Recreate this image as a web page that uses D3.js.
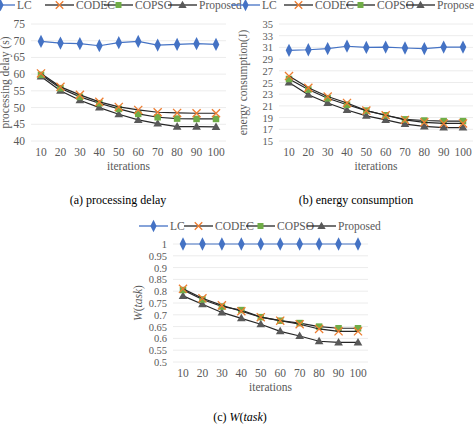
<!DOCTYPE html><html><head><meta charset="utf-8"><script src="https://d3js.org/d3.v7.min.js"></script>
<style>body{margin:0;background:#fff}</style></head><body><svg width="474" height="427" font-family="Liberation Serif, Times New Roman, DejaVu Serif, serif"></svg>
<script>
const iterations=[10,20,30,40,50,60,70,80,90,100];
const seriesNames=["LC","CODEC","COPSO","Proposed"];
const delayLC=[69.8,69.3,69.1,68.5,69.4,69.8,68.7,68.9,69.1,68.9];
const delayCODEC=[60.2,56.2,53.8,51.7,50.2,49.3,48.6,48.4,48.3,48.3];
const delayCOPSO=[59.8,55.8,53.2,51.3,49.6,48.1,47.1,46.7,46.6,46.6];
const delayProposed=[59.3,55,52.2,50,48,46.3,45.2,44.3,44.3,44.2];
const energyLC=[30.5,30.6,30.8,31.2,31.0,31.05,30.9,30.8,31.05,31.05];
const energyCODEC=[26.1,24.1,22.6,21.5,20.2,19.4,18.6,18.2,18.0,18.0];
const energyCOPSO=[25.6,23.8,22.3,21.2,20.2,19.4,18.7,18.5,18.4,18.4];
const energyProposed=[25.0,22.9,21.5,20.3,19.3,18.6,17.9,17.5,17.3,17.3];
const wLC=[1,1,1,1,1,1,1,1,1,1];
const wCODEC=[0.81,0.77,0.74,0.715,0.69,0.675,0.66,0.64,0.63,0.63];
const wCOPSO=[0.805,0.765,0.735,0.72,0.69,0.675,0.665,0.65,0.643,0.643];
const wProposed=[0.78,0.745,0.71,0.685,0.66,0.63,0.61,0.588,0.583,0.583];
const delayTicks=[40,45,50,55,60,65,70,75];
const energyTicks=[15,17,19,21,23,25,27,29,31,33,35];
const wTicks=[0.5,0.55,0.6,0.65,0.7,0.75,0.8,0.85,0.9,0.95,1];

const svg=d3.select("svg");
const colors={LC:"#4472C4",CODEC:"#ED7D31",COPSO:"#70AD47",Proposed:"#595959"};
const lineCol={LC:"#4472C4",CODEC:"#262626",COPSO:"#262626",Proposed:"#262626"};
const txt="#595959";
function marker(g,name,x,y,s){
 if(name==="LC")g.append("path").attr("d",d3.symbol(d3.symbolDiamond,s*5.5)()).attr("transform",`translate(${x},${y}) scale(1,1.15)`).attr("fill",colors.LC);
 else if(name==="CODEC")g.append("path").attr("d",`M${x-s/1.6},${y-s/1.6}L${x+s/1.6},${y+s/1.6}M${x-s/1.6},${y+s/1.6}L${x+s/1.6},${y-s/1.6}`).attr("stroke",colors.CODEC).attr("stroke-width",1.3);
 else if(name==="COPSO")g.append("rect").attr("x",x-s/2).attr("y",y-s/2).attr("width",s).attr("height",s).attr("fill",colors.COPSO);
 else g.append("path").attr("d",d3.symbol(d3.symbolTriangle,s*5)()).attr("transform",`translate(${x},${y+0.5})`).attr("fill",colors.Proposed);
}
function legend(y,xs){
 const g=svg.append("g");
 seriesNames.forEach((n,i)=>{const x=xs[i];
  g.append("line").attr("x1",x).attr("x2",x+29).attr("y1",y).attr("y2",y).attr("stroke",lineCol[n]).attr("stroke-width",1.3);
  marker(g,n,x+14.5,y,6);
  g.append("text").attr("x",x+31).attr("y",y+4).attr("font-size",11.5).attr("fill",txt).text(n);
 });
}
function chart(o){
 const x=d3.scalePoint().domain(iterations).range([o.x0,o.x1]);
 const y=d3.scaleLinear().domain([o.ticks[0],o.ticks[o.ticks.length-1]]).range([o.yb,o.yt]);
 const g=svg.append("g");
 o.ticks.forEach(t=>{g.append("line").attr("x1",o.x0-10).attr("x2",o.x1+10).attr("y1",y(t)).attr("y2",y(t)).attr("stroke","#ececec");
  g.append("text").attr("x",o.x0-16).attr("y",y(t)+4).attr("text-anchor","end").attr("font-size",o.fs).attr("fill",txt).text(o.fmt?o.fmt(t):t);});
 iterations.forEach(v=>g.append("text").attr("x",x(v)).attr("y",o.yb+15).attr("text-anchor","middle").attr("font-size",11.5).attr("fill",txt).text(v));
 g.append("text").attr("x",(o.x0+o.x1)/2).attr("y",o.yb+29).attr("text-anchor","middle").attr("font-size",11.5).attr("fill",txt).text("iterations");
 const yl=g.append("text").attr("transform",`translate(${o.ylx},${(o.yt+o.yb)/2}) rotate(-90)`).attr("text-anchor","middle").attr("font-size",11.5).attr("fill",txt);
 o.ylabel(yl);
 const ln=d3.line().x((d,i)=>x(iterations[i])).y(d=>y(d));
 ["Proposed","COPSO","CODEC","LC"].forEach(n=>{const d=o.data[n];
  g.append("path").attr("d",ln(d)).attr("fill","none").attr("stroke",lineCol[n]).attr("stroke-width",1.2);
  d.forEach((v,i)=>marker(g,n,x(iterations[i]),y(v),n==="LC"?7:6.5));});
 const c=g.append("text").attr("x",o.cx).attr("y",o.cy).attr("text-anchor","middle").attr("font-size",12).attr("fill","#000");
 o.caption(c);
}
legend(5,[-14,45,104,168]);
legend(5,[231,284,346,406]);
legend(226,[139,184,246,307]);
chart({x0:41,x1:216,yt:24,yb:141,ticks:delayTicks,fs:11.5,ylx:9,cx:118,cy:204,
 data:{LC:delayLC,CODEC:delayCODEC,COPSO:delayCOPSO,Proposed:delayProposed},
 ylabel:t=>t.text("processing delay (s)"),caption:t=>t.text("(a) processing delay")});
chart({x0:289,x1:463,yt:24,yb:141,ticks:energyTicks,fs:10.5,ylx:247,cx:356,cy:204,
 data:{LC:energyLC,CODEC:energyCODEC,COPSO:energyCOPSO,Proposed:energyProposed},
 ylabel:t=>t.text("energy consumption(J)"),caption:t=>t.text("(b) energy consumption")});
chart({x0:183,x1:358,yt:244,yb:362,ticks:wTicks,fs:10.5,ylx:142,cx:240,cy:421,fmt:d3.format(""),
 data:{LC:wLC,CODEC:wCODEC,COPSO:wCOPSO,Proposed:wProposed},
 ylabel:t=>{t.append("tspan").attr("font-style","italic").text("W");t.append("tspan").text("(");t.append("tspan").attr("font-style","italic").text("task");t.append("tspan").text(")");},
 caption:t=>{t.append("tspan").text("(c) ");t.append("tspan").attr("font-style","italic").text("W");t.append("tspan").text("(");t.append("tspan").attr("font-style","italic").text("task");t.append("tspan").text(")");}});
</script></body></html>
